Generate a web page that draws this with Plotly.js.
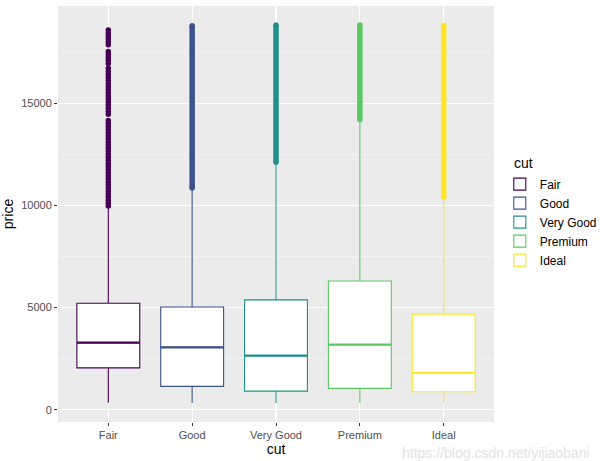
<!DOCTYPE html>
<html>
<head>
<meta charset="utf-8">
<script src="https://cdn.plot.ly/plotly-3.0.1.min.js"></script>
<style>html,body{margin:0;padding:0;background:#fff;}#chart{width:600px;height:461px;}</style>
</head>
<body>
<div id="chart"></div>
<script>
// ---- data ----
const cuts = ["Fair", "Good", "Very Good", "Premium", "Ideal"];
const colors = ["#440154", "#3B528B", "#21908C", "#5DC863", "#FDE725"];
const lowerWhisker = [337, 327, 336, 326, 326];
const q1 = [2050, 1145, 912, 1046, 878];
const medians = [3282, 3050, 2648, 3185, 1810];
const q3 = [5206, 5028, 5373, 6296, 4678];
const upperWhisker = [9900, 10800, 12050, 14150, 10350];
// dense outlier runs (min, max) for Good, Very Good, Premium, Ideal
const outlierMin = [null, 10850, 12100, 14200, 10400];
const outlierMax = [null, 18788, 18818, 18823, 18806];
// individual Fair outliers visible in the picture
const fairOutliers = [18574, 18430, 18290, 18150, 17990, 17850,
  17520, 17380, 17230, 17090, 16930,
  16700, 16550, 16400, 16250, 16100, 15950, 15800, 15650, 15500, 15350, 15200, 15050, 14900, 14750, 14600, 14450,
  14150, 14000, 13850, 13700, 13550, 13400, 13250,
  13100, 12950, 12800, 12650, 12500, 12350, 12200,
  12050, 11900, 11750, 11600, 11450, 11300, 11150, 11000, 10850, 10700, 10550, 10400, 10250, 10100, 9960];
const yTicks = [0, 5000, 10000, 15000];

// ---- build traces ----
const positions = cuts.map((c, i) => i + 1);
const boxW = 0.75;
const traces = [];
cuts.forEach((c, i) => {
  traces.push({
    type: "box", name: c, x: [positions[i]],
    q1: [q1[i]], median: [medians[i]], q3: [q3[i]],
    lowerfence: [lowerWhisker[i]], upperfence: [upperWhisker[i]],
    width: boxW, fillcolor: "#FFFFFF",
    line: {color: colors[i], width: 1.1},
    whiskerwidth: 0, boxpoints: false, hoverinfo: "skip",
    legendgroup: c
  });
});
// thicker median lines
cuts.forEach((c, i) => {
  traces.push({
    type: "scatter", mode: "lines", showlegend: false, hoverinfo: "skip",
    x: [positions[i] - boxW / 2, positions[i] + boxW / 2], y: [medians[i], medians[i]],
    line: {color: colors[i], width: 2.2}, legendgroup: c
  });
});
// Fair outliers
traces.push({
  type: "scatter", mode: "markers", showlegend: false, hoverinfo: "skip",
  x: fairOutliers.map(() => positions[0]), y: fairOutliers,
  marker: {color: colors[0], size: 5.5}
});
// dense outlier runs
cuts.forEach((c, i) => {
  if (outlierMin[i] === null) return;
  traces.push({
    type: "scatter", mode: "lines+markers", showlegend: false, hoverinfo: "skip",
    x: [positions[i], positions[i]], y: [outlierMin[i], outlierMax[i]],
    line: {color: colors[i], width: 5.5}, marker: {color: colors[i], size: 5.5}
  });
});

const layout = {
  width: 600, height: 461,
  margin: {l: 58, r: 106, t: 6, b: 39, autoexpand: false},
  paper_bgcolor: "#FFFFFF", plot_bgcolor: "#EBEBEB",
  font: {family: "Liberation Sans, Arial, sans-serif", color: "#4D4D4D"},
  showlegend: true, boxmode: "overlay",
  xaxis: {
    range: [0.4, 5.6], tickvals: positions, ticktext: cuts,
    showgrid: true, gridcolor: "#FFFFFF", gridwidth: 1.1, zeroline: false,
    ticks: "outside", ticklen: 3, tickwidth: 1, tickcolor: "#333333",
    tickfont: {size: 11, color: "#4D4D4D"},
    title: {text: "cut", font: {size: 14, color: "#000000"}, standoff: 1},
    fixedrange: true
  },
  yaxis: {
    range: [-599, 19748], tickvals: yTicks, ticktext: yTicks.map(String),
    showgrid: true, gridcolor: "#FFFFFF", gridwidth: 1.1, zeroline: false,
    minor: {tickvals: [2500, 7500, 12500, 17500], showgrid: true, gridcolor: "#F7F7F7", gridwidth: 0.6, ticks: ""},
    ticks: "outside", ticklen: 3, tickwidth: 1, tickcolor: "#333333",
    tickfont: {size: 11, color: "#4D4D4D"},
    title: {text: "price", font: {size: 14, color: "#000000"}, standoff: 4},
    fixedrange: true
  },
  legend: {
    xref: "container", yref: "container",
    x: 0.833, xanchor: "left", y: 0.632, yanchor: "top",
    font: {size: 12, color: "#000000"}, bgcolor: "rgba(0,0,0,0)",
    tracegroupgap: 0, itemwidth: 30
  },
  annotations: [{
    xref: "paper", yref: "paper", x: 1.225, y: -0.075, xanchor: "right", yanchor: "middle",
    text: "https://blog.csdn.net/yijiaobani", showarrow: false,
    font: {size: 14, color: "#E3E3E3"}
  }, {
    xref: "paper", yref: "paper", x: 1.042, y: 0.623, xanchor: "left", yanchor: "middle",
    text: "cut", showarrow: false,
    font: {size: 14, color: "#000000"}
  }]
};

Plotly.newPlot("chart", traces, layout, {displayModeBar: false, staticPlot: true});
</script>
</body>
</html>
